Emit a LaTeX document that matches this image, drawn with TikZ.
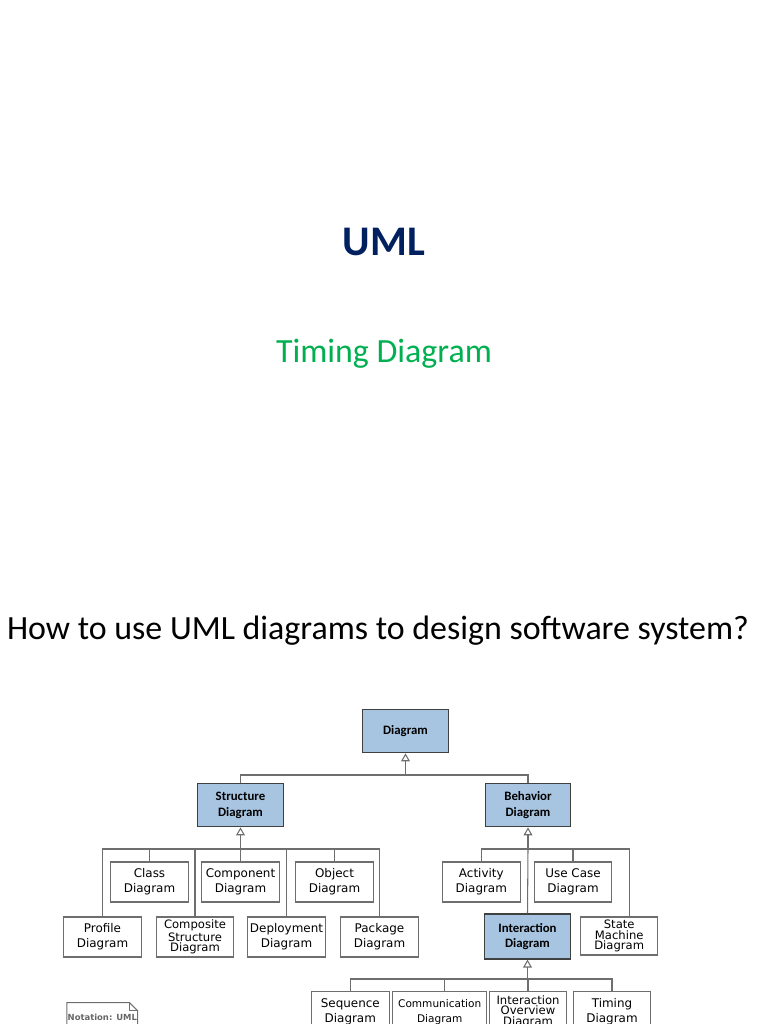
\documentclass[tikz,border=0pt]{standalone}
\usepackage{fontspec}
\setmainfont{Carlito}
\newfontfamily\boxfont{DejaVu Sans}
\usetikzlibrary{arrows.meta}
\definecolor{umlnavy}{RGB}{0,32,96}
\definecolor{umlgreen}{RGB}{0,176,80}
\definecolor{boxblue}{RGB}{167,196,224}
\definecolor{lngray}{RGB}{110,110,110}
\tikzset{abst/.style={rectangle,draw=black!75,fill=boxblue,line width=0.7pt,minimum width=1.71cm,minimum height=0.87cm,align=center,inner sep=1pt,font=\bfseries\fontsize{7.3}{9}\selectfont}}
\tikzset{kind/.style={rectangle,draw=lngray,fill=white,line width=0.6pt,minimum width=1.55cm,minimum height=0.8cm,align=center,inner sep=1pt,font=\boxfont\fontsize{6.8}{8.4}\selectfont}}
\tikzset{tight/.style={font=\boxfont\fontsize{6.6}{6}\selectfont}}
\tikzset{ln/.style={draw=lngray,line width=0.6pt}}
\tikzset{inh/.style={ln,-{Triangle[open,length=4.5pt,width=5pt]}}}

\begin{document}
\begin{tikzpicture}[x=0.02cm,y=-0.02cm]
    \useasboundingbox (0,0) rectangle (768,1024);

    \node[anchor=base,text=umlnavy,font=\bfseries\fontsize{24}{28}\selectfont] (title) at (384,255) {UML};
    \node[anchor=base,text=umlgreen,font=\fontsize{19.3}{23}\selectfont] (sub) at (384,362) {Timing Diagram};
    \node[anchor=base,font=\fontsize{19.3}{23}\selectfont] (quest) at (378,639) {How to use UML diagrams to design software system?};

    \node[abst] (diag) at (405.5,731) {Diagram};
    \node[abst] (struct) at (240.5,805) {Structure\\Diagram};
    \node[abst] (behav) at (528,805) {Behavior\\Diagram};

    \node[kind] (class) at (149.5,882) {Class\\Diagram};
    \node[kind] (comp) at (240.5,882) {Component\\Diagram};
    \node[kind] (obj) at (334.5,882) {Object\\Diagram};
    \node[kind] (prof) at (102.5,937) {Profile\\Diagram};
    \node[kind,tight] (compos) at (195,937) {Composite\\Structure\\Diagram};
    \node[kind] (deploy) at (286.5,937) {Deployment\\Diagram};
    \node[kind] (pack) at (379.5,937) {Package\\Diagram};

    \node[kind] (activ) at (481.3,882) {Activity\\Diagram};
    \node[kind] (usecase) at (573,882) {Use Case\\Diagram};
    \node[abst,minimum height=0.9cm] (inter) at (527.5,936.5) {Interaction\\Diagram};
    \node[kind,tight,minimum height=0.76cm] (state) at (619.2,936) {State\\Machine\\Diagram};

    \node[kind] (seq) at (350.3,1011.7) {Sequence\\Diagram};
    \node[kind,minimum width=1.88cm,font=\boxfont\fontsize{6}{8.4}\selectfont] (comm) at (439.7,1011.7) {Communication\\Diagram};
    \node[kind,tight] (inov) at (528,1011.7) {Interaction\\Overview\\Diagram};
    \node[kind] (timing) at (612,1011.7) {Timing\\Diagram};

    \node[inner sep=0pt,minimum width=1.4cm,minimum height=0.56cm,text=black!60,font=\boxfont\bfseries\fontsize{4.8}{6}\selectfont] (nota) at (102.3,1017) {Notation: UML};
    \draw[ln] (nota.south west) -- (nota.north west) -- ([xshift=-0.16cm]nota.north east) -- ([yshift=-0.16cm]nota.north east) -- (nota.south east);
    \draw[ln] ([xshift=-0.16cm]nota.north east) |- ([yshift=-0.16cm]nota.north east);

    \coordinate (topbus) at (405.5,775);
    \coordinate (sbus) at (240.5,849);
    \coordinate (bbus) at (528,849);
    \coordinate (ibus) at (527.5,979);

    \draw[inh] (topbus) -- (diag.south);
    \draw[ln] (struct.north) |- (topbus);
    \draw[ln] (behav.north) |- (topbus);

    \draw[inh] (sbus) -- (struct.south);
    \draw[ln] (prof.north) |- (sbus);
    \draw[ln] (class.north) |- (sbus);
    \draw[ln] (compos.north) |- (sbus);
    \draw[ln] (comp.north) -- (sbus);
    \draw[ln] (deploy.north) |- (sbus);
    \draw[ln] (obj.north) |- (sbus);
    \draw[ln] (pack.north) |- (sbus);

    \draw[inh] (bbus) -- (behav.south);
    \draw[ln] (activ.north) |- (bbus);
    \draw[ln] (usecase.north) |- (bbus);
    \draw[ln] (inter.north) -- (bbus);
    \draw[ln] ([xshift=0.2cm]state.north) |- (bbus);

    \draw[inh] (ibus) -- (inter.south);
    \draw[ln] (seq.north) |- (ibus);
    \draw[ln] ([xshift=0.1cm]comm.north) |- (ibus);
    \draw[ln] (inov.north) |- (ibus);
    \draw[ln] (timing.north) |- (ibus);
\end{tikzpicture}
\end{document}
